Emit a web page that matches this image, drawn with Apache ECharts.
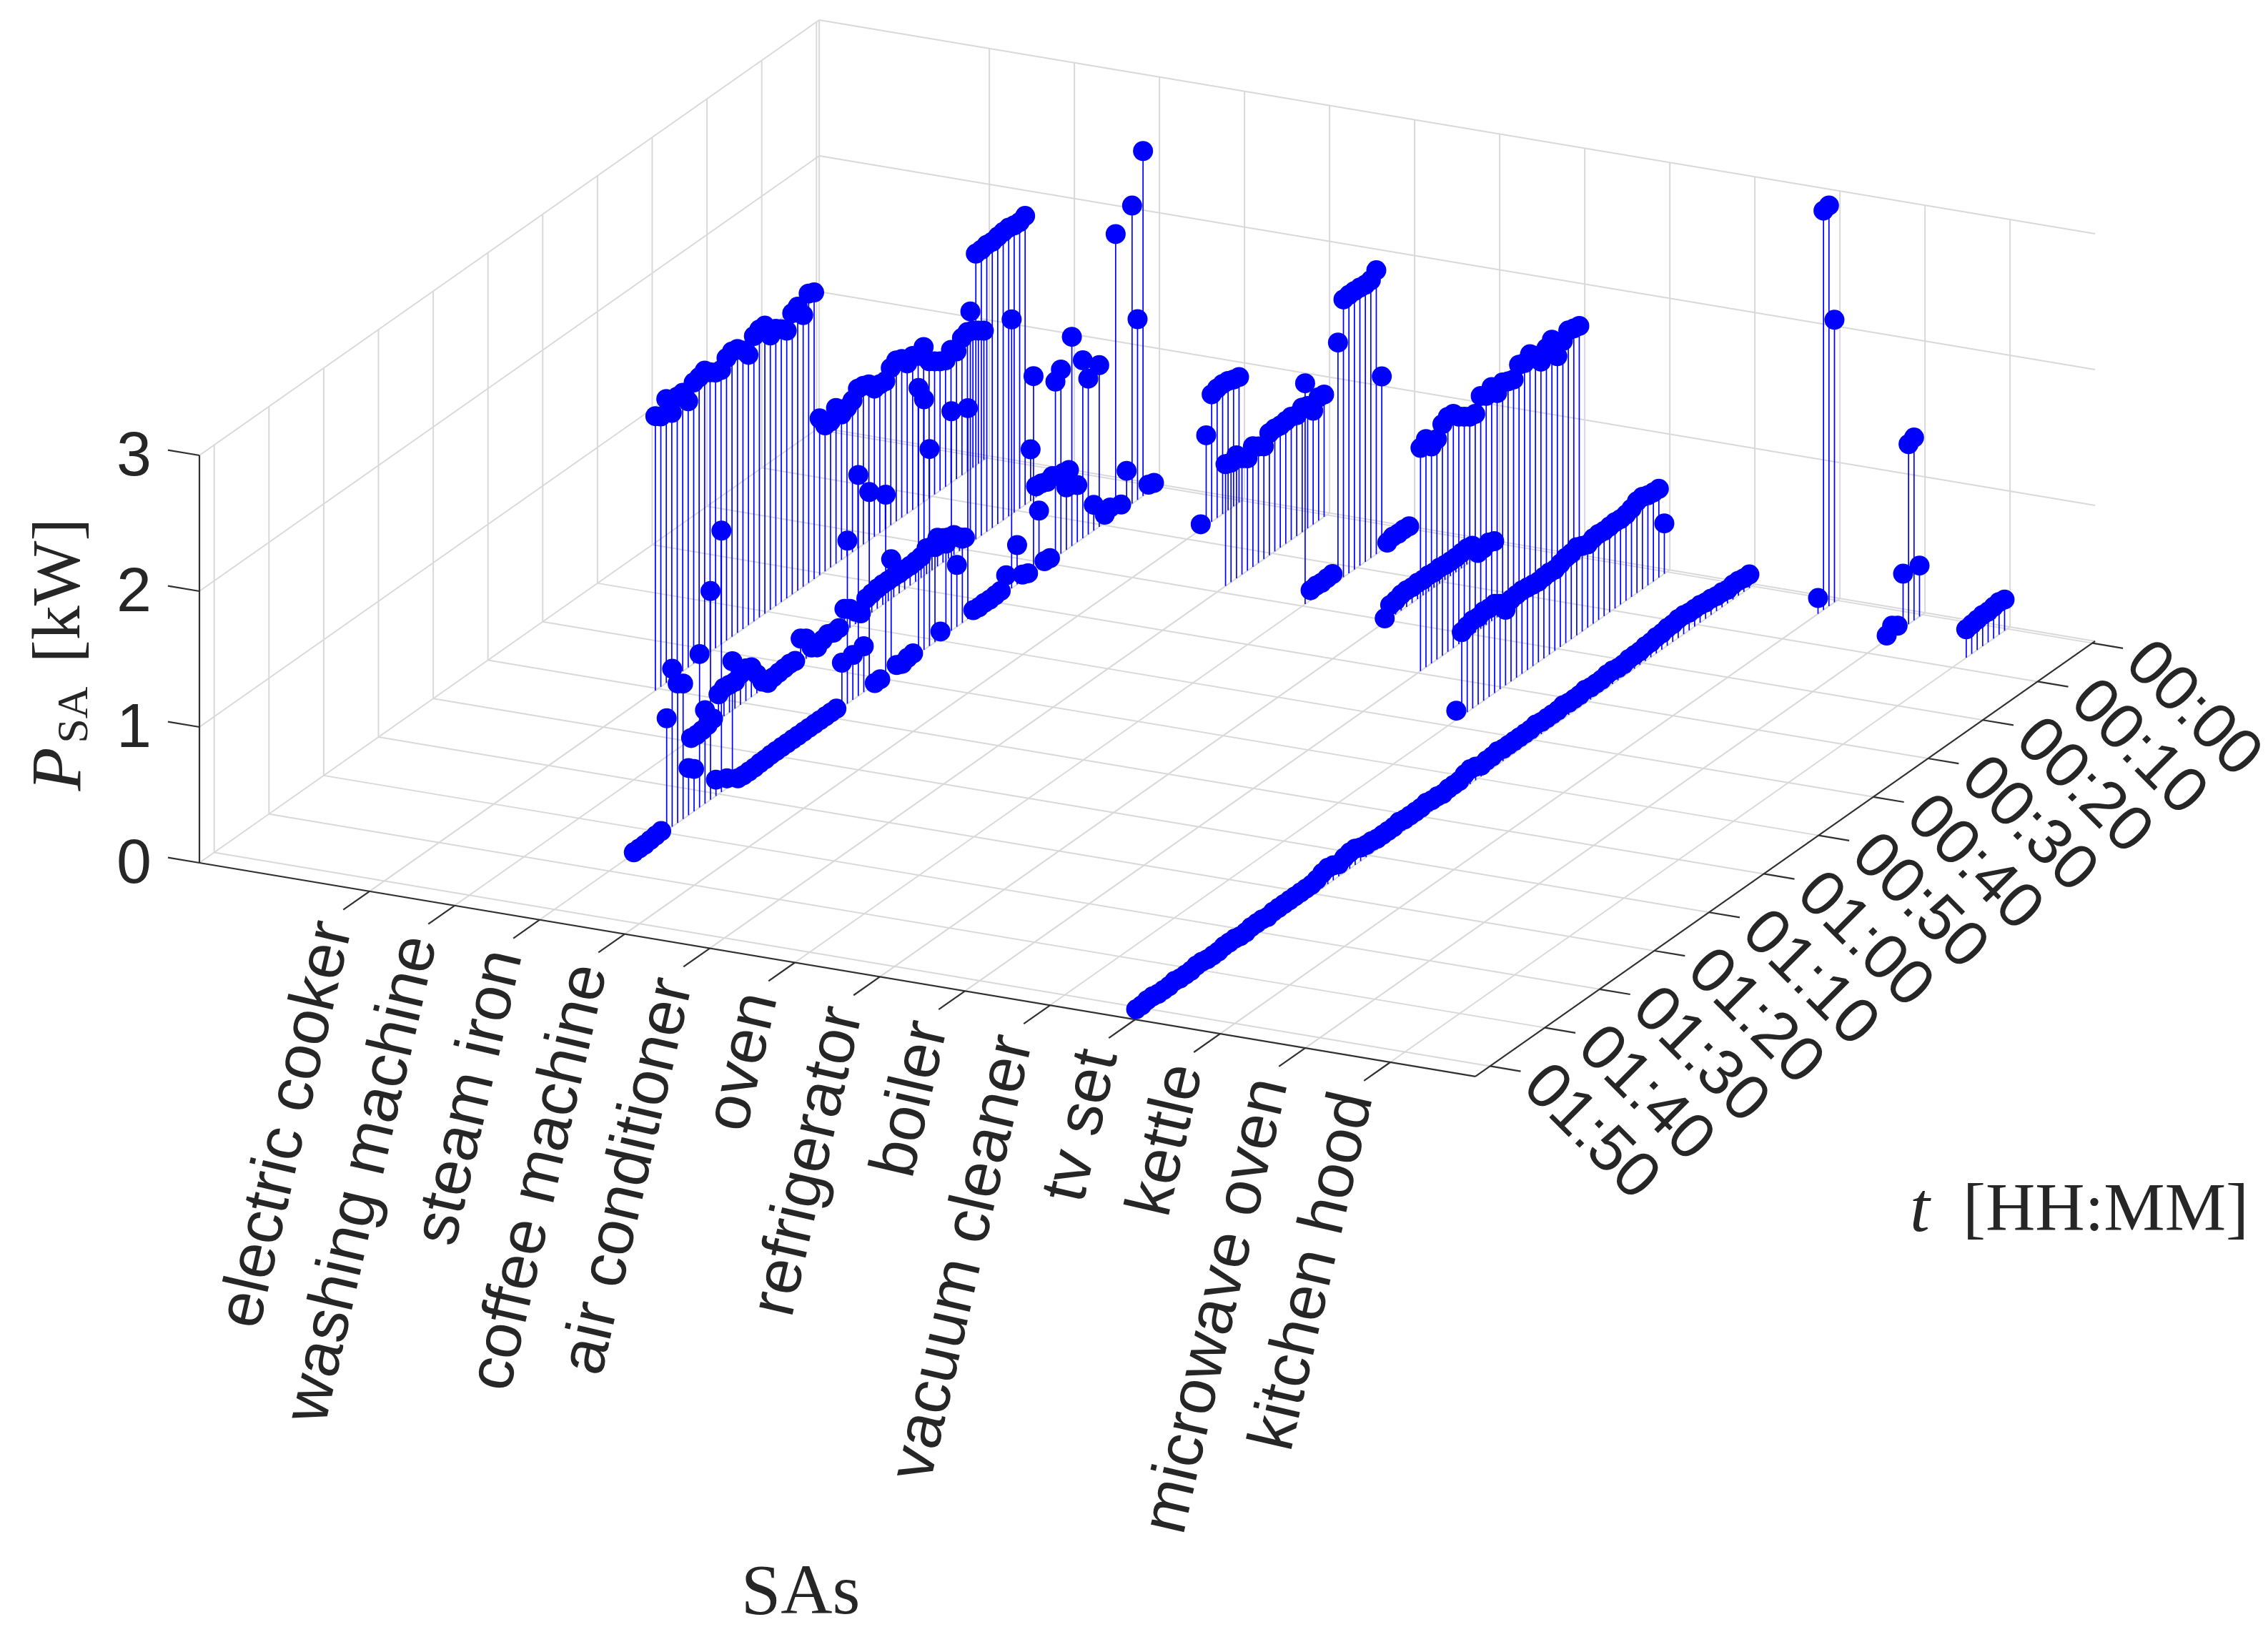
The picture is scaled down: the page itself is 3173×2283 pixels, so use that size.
<!DOCTYPE html>
<html><head><meta charset="utf-8">
<style>html,body{margin:0;padding:0;background:#fff}#c{width:3173px;height:2283px}</style>
<script src="https://cdn.jsdelivr.net/npm/echarts@6/dist/echarts.min.js"></script>
</head><body><div id="c"></div>
<script>
// ---------- data: power [kW] per one-minute sample, first value = first sample ----------
const categories = ['electric cooker','washing machine','steam iron','coffee machine','air conditioner','oven','refrigerator','boiler','vacuum cleaner','tv set','kettle','microwave oven','kitchen hood'];
const timeTicks = ['00:00','00:10','00:20','00:30','00:40','00:50','01:00','01:10','01:20','01:30','01:40','01:50'];
const powerTicks = [0,1,2,3];
const electricCooker = [.951,.98,1.008,1.025,1.01,.94,.979,.93,.952,.98,1.009,1.142,1.105,1.133,1.106,1.167,1.185,1.158,1.088,1.094,1.09,1.15,1.168,1.175,1.116,1.09,1.07,1.146,1.075,1.075,1.154,2.11,2.13,2.0,2.09,2.07,1.97,2.01,2.04,2.02,2.12,2.12,2.10,1.99,2.05,2.09,2.10,2.08,2.02,2.03,2.06,2.10,2.08,2.07,1.96,2.05,2.05,1.96,2.09,1.99,2.02];
const washingMachine = [.03,.037,.043,.07,.056,.073,.08,.38,2.127,2.11,2.114,2.125,2.122,2.116,2.107,2.113,2.104,2.104,1.707,.07,.10,.145,.156,.18,.21,.175,.19,.155,.15,.146,.148,.146,.15,.15,.152,.148,.14,.132,.05,.09,.14,.168,.055,.05,.068,.052,.026,.054,.148,.176,.04,.047,.042,.038,.033,.02,.057,.14,.22,.24,.225,.198,.204,.21,.19,.04,.02,.01,.005,.01];
const steamIron = [.04,.055,2.54,1.33,2.195,.27,.05,2.07,.085,.06,1.19,.19,1.147,1.31,.42,1.54,.46,1.356,1.295,.024,.03,.43,1.449,.026,.044,.29,1.98,.124,.037,.033,.03,.034,.03,.037,1.553,.62,.455,1.615,.668,.05,.70,1.45,1.845,1.956,.03,.026,.01,.03,.837,1.34,.01,.01,1.445,.338,1.627,.33,1.2,.33,.02,.02,.02,.02,.02,.02,.02,.02,.02,.02,.02,.02,.02,.015,.015,.01,.01,.01,.017,.907,.073,1.925,.12,1.537,.688,1.13,.312,.347,.998,1.026,1.163,.827,.025,.02,.015,.01,.01,.01];
const coffeeMachine = [.924,.934,.952,.958,.953,.938,.665,.038];
const airConditioner = [.90,.908,.838,.90,.917,.89,.907,.903,.898,.905,.90,.83,.858,.887,.827,.856,.906,.88,.897];
const oven = [.035,.04,.037,.043,.028,1.28,2.09,2.045,2.04,2.047,2.05,2.05,2.045,1.756,.08,.077,.072,.079,.074,1.626];
const refrigerator = [.03,.048,.033,.028,.11,.118,.113,.108,.108,.11,.117,.112,.119,.114,.12,.116,.122,.118,.103,.098,.028];
const boiler = [1.72,1.73,1.743,1.694,1.61,1.76,1.725,1.655,1.727,1.766,1.73,1.746,1.665,1.68,1.70,1.65,1.723,1.686,1.714,1.61,1.618,1.646,1.675,1.724,1.73,1.704,1.623,1.597,1.68,1.643];
const vacuumCleaner = [.371,.654,.656,.663,.68,.675,.649,.634,.629,.635,.631,.627,.633,.629,.613,.63,.648,.632,.628,.612,.597,.603,.60,.594,.60,.607,.613,.609,.604,.556,.628,.656,.652,.658,.643,.649,.634,.618,.068];
const tvSet = [.10,.10,.11,.11,.10,.11,.11,.12,.12,.13,.13,.13,.14,.14,.13,.13,.12,.12,.11,.11,.10,.10,.10,.09,.09,.10,.10,.09,.09,.09,.10,.09,.09,.09,.10,.09,.09,.09,.09,.10,.09,.09,.09,.09,.09,.09,.10,.09,.09,.08,.10,.11,.10,.08,.08,.08,.07,.08,.08,.09,.08,.08,.08,.08,.09,.08,.08,.08,.08,.09,.09,.10,.12,.12,.11,.09,.11,.12,.11,.09,.08,.08,.08,.08,.08,.08,.08,.08,.07,.08,.08,.08,.07,.07,.08,.08,.08,.07,.07,.07,.08,.08,.07,.07,.07,.08,.07,.07,.07,.08,.08,.07,.07];
const kettle = [2.08,2.95,2.94,.116];
const microwaveOven = [.375,1.346,1.326,.40,.046,.074,.03];
const kitchenHood = [.23,.24,.233,.226,.23,.223,.216,.209];
const seriesValues = [electricCooker,washingMachine,steamIron,coffeeMachine,airConditioner,oven,refrigerator,boiler,vacuumCleaner,tvSet,kettle,microwaveOven,kitchenHood];

// ---------- oblique projection of the MATLAB-style 3D box ----------
const box = {ox:279, oy:1207, cx:119, cy:19.93, tx:7.66, ty:5.38, z:190, cMin:-1, cMax:14, tMin:-0.5, tMax:112.7, zMax:3};
function project(c,t,p){
  const A=c-box.cMin, B=box.tMax-t;
  return [box.ox+A*box.cx+B*box.tx, box.oy+A*box.cy-B*box.ty-p*box.z];
}
const tickMinutes = timeTicks.map(s=>+s.slice(0,2)*60 + +s.slice(3));
const catIndex = categories.map((_,i)=>i+1);

// light box grid as 3D segments
const grid=[];
const seg=(a,b)=>grid.push([...a,...b]);
catIndex.forEach(c=>{ seg([c,box.tMin,0],[c,box.tMax,0]); seg([c,box.tMin,0],[c,box.tMin,box.zMax]); });
tickMinutes.forEach(t=>{ seg([box.cMin,t,0],[box.cMax,t,0]); seg([box.cMin,t,0],[box.cMin,t,box.zMax]); });
powerTicks.forEach(p=>{ seg([box.cMin,box.tMin,p],[box.cMax,box.tMin,p]); seg([box.cMin,box.tMin,p],[box.cMin,box.tMax,p]); });
seg([box.cMin,box.tMin,0],[box.cMin,box.tMin,box.zMax]);
// dark axes and ticks
const axes=[
 [box.cMin,box.tMax,0,box.cMax,box.tMax,0],
 [box.cMax,box.tMax,0,box.cMax,box.tMin,0],
 [box.cMin,box.tMax,0,box.cMin,box.tMax,box.zMax]
];
catIndex.forEach(c=>axes.push([c,box.tMax,0,c,box.tMax+4.8,0]));
tickMinutes.forEach(t=>axes.push([box.cMax,t,0,box.cMax+0.36,t,0]));
powerTicks.forEach(p=>axes.push([box.cMin,box.tMax,p,box.cMin-0.37,box.tMax,p]));

const sampleOffset=0.5;
const stems=[];
seriesValues.forEach((vals,k)=>vals.forEach((p,i)=>stems.push([k+1,i+sampleOffset,p])));

function lineRender(width,color){
  return function(params,api){
    const a=project(api.value(0),api.value(1),api.value(2));
    const b=project(api.value(3),api.value(4),api.value(5));
    const p1=api.coord(a),p2=api.coord(b);
    return {type:'line',shape:{x1:p1[0],y1:p1[1],x2:p2[0],y2:p2[1]},style:{stroke:color,lineWidth:width},silent:true};
  };
}
function labelRender(list,anchor,rotDeg,align,size){
  return function(params,api){
    const i=params.dataIndex;
    const q=api.coord(anchor(i));
    return {type:'text',x:q[0],y:q[1],rotation:rotDeg*Math.PI/180,silent:true,
      style:{text:String(list[i]),fontFamily:'"Liberation Sans",Arial,sans-serif',fontSize:size,fill:'#262626',align:align,verticalAlign:'middle'}};
  };
}
const idx=a=>a.map((_,i)=>[i]);
const series=[
 {type:'custom',name:'grid',coordinateSystem:'cartesian2d',clip:false,silent:true,z:1,encode:{x:0,y:1},data:grid,renderItem:lineRender(2,'#d9d9d9')},
 {type:'custom',name:'axes',coordinateSystem:'cartesian2d',clip:false,silent:true,z:2,encode:{x:0,y:1},data:axes,renderItem:lineRender(2.2,'#303030')},
 {type:'custom',name:'stems',coordinateSystem:'cartesian2d',clip:false,silent:true,z:3,encode:{x:0,y:1},data:stems.map(s=>[s[0],s[1],0,s[0],s[1],s[2]]),renderItem:lineRender(1.7,'#0000ff')},
 {type:'custom',name:'SA labels',coordinateSystem:'cartesian2d',clip:false,silent:true,z:6,data:idx(categories),
   renderItem:labelRender(categories,i=>{const p=project(i+1,box.tMax,0);return [p[0]-49,p[1]+44];},77,'right',90)},
 {type:'custom',name:'time labels',coordinateSystem:'cartesian2d',clip:false,silent:true,z:6,data:idx(timeTicks),
   renderItem:labelRender(timeTicks,i=>{const p=project(box.cMax,tickMinutes[i],0);return [p[0]+60,p[1]+14];},-45,'left',90)},
 {type:'custom',name:'power labels',coordinateSystem:'cartesian2d',clip:false,silent:true,z:6,data:idx(powerTicks),
   renderItem:labelRender(powerTicks,i=>{const p=project(box.cMin,box.tMax,powerTicks[i]);return [p[0]-67,p[1]+4];},0,'right',88)}
];
categories.forEach((name,k)=>{
  series.push({type:'scatter',name:name,coordinateSystem:'cartesian2d',clip:false,silent:true,z:4,symbol:'circle',symbolSize:28,
    itemStyle:{color:'#0000ff',opacity:1},
    data:seriesValues[k].map((p,i)=>project(k+1,i+sampleOffset,p))});
});
const serif='"Liberation Serif","Times New Roman",serif';
const t=(x,y,text,size,extra)=>Object.assign({type:'text',x:x,y:y,silent:true,
   style:Object.assign({text:text,fontFamily:serif,fontSize:size,fill:'#262626',align:'center',verticalAlign:'middle'},extra&&extra.style||{})},extra&&extra.el||{});
const ninety=Math.PI/2;
const graphic=[
 t(1120,2231,'SAs',100),
 t(2900,1696,'[HH:MM]',96,{style:{align:'left'},el:{x:2746}}),
 t(2686,1696,'t',100,{style:{fontStyle:'italic'}}),
 t(86,1076,'P',100,{style:{fontStyle:'italic'},el:{rotation:ninety}}),
 t(106,1000,'SA',62,{el:{rotation:ninety}}),
 t(86,826,'[kW]',96,{el:{rotation:ninety}})
];
const chart=echarts.init(document.getElementById('c'),null,{renderer:'canvas',width:3173,height:2283});
chart.setOption({
  animation:false,backgroundColor:'#ffffff',
  grid:{left:0,right:0,top:0,bottom:0},
  xAxis:{type:'value',min:0,max:3173,show:false},
  yAxis:{type:'value',min:0,max:2283,inverse:true,show:false},
  series:series,graphic:graphic
});
</script></body></html>
